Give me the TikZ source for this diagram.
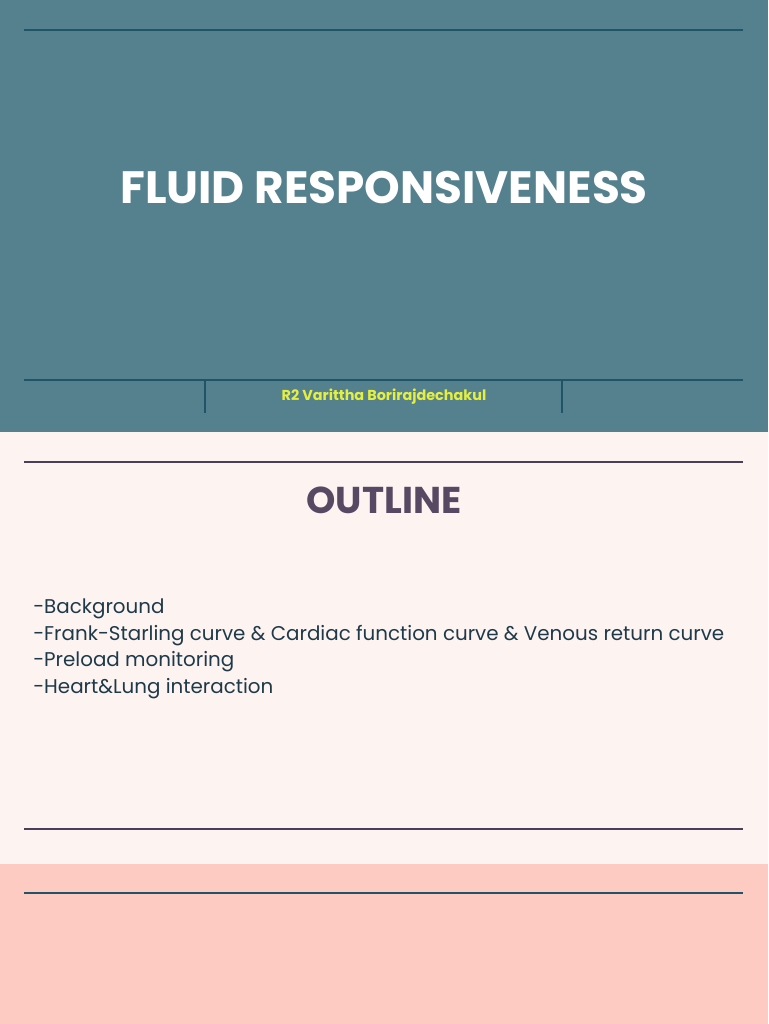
\documentclass[tikz,border=0pt]{standalone}
\usepackage{fontspec}
\setmainfont{Poppins}
\definecolor{teal}{HTML}{55818F}
\definecolor{tealline}{HTML}{1F5566}
\definecolor{cream}{HTML}{FDF3F0}
\definecolor{pink}{HTML}{FECBC2}
\definecolor{plum}{HTML}{574963}
\definecolor{plumline}{HTML}{4A3F5A}
\definecolor{yel}{HTML}{E6F03C}
\definecolor{ink}{HTML}{1E3A4A}
\begin{document}
\begin{tikzpicture}[x=0.75pt,y=-0.75pt,
  rule/.style={line width=1.3pt},
  item/.style={anchor=west,text=ink,font=\fontsize{14.9}{17}\selectfont,inner sep=0}]
\useasboundingbox (0,0) rectangle (768,1024);
\fill[teal] (0,0) rectangle (768,432);
\fill[cream] (0,432) rectangle (768,864);
\fill[pink] (0,864) rectangle (768,1024);
\draw[rule,tealline] (24,30) -- (743,30);
\draw[rule,tealline] (24,380) -- (743,380);
\draw[rule,tealline] (205,380) -- (205,413);
\draw[rule,tealline] (562,380) -- (562,413);
\node (title) at (384,188) {\fontsize{34}{38}\selectfont\bfseries\color{white}FLUID RESPONSIVENESS};
\node (name) at (384,397) {\fontsize{10.8}{12}\selectfont\bfseries\color{yel}R2 Varittha Borirajdechakul};
\draw[rule,plumline] (24,462) -- (743,462);
\draw[rule,plumline] (24,829) -- (743,829);
\node (outline) at (384,500) {\fontsize{28}{32}\selectfont\bfseries\color{plum}OUTLINE};
\node[item] (i1) at (33,609) {-Background};
\node[item] (i2) at (33,636) {-Frank-Starling curve \& Cardiac function curve \& Venous return curve};
\node[item] (i3) at (33,662) {-Preload monitoring};
\node[item] (i4) at (33,689) {-Heart\&Lung interaction};
\draw[rule,tealline] (24,893) -- (743,893);
\end{tikzpicture}
\end{document}
